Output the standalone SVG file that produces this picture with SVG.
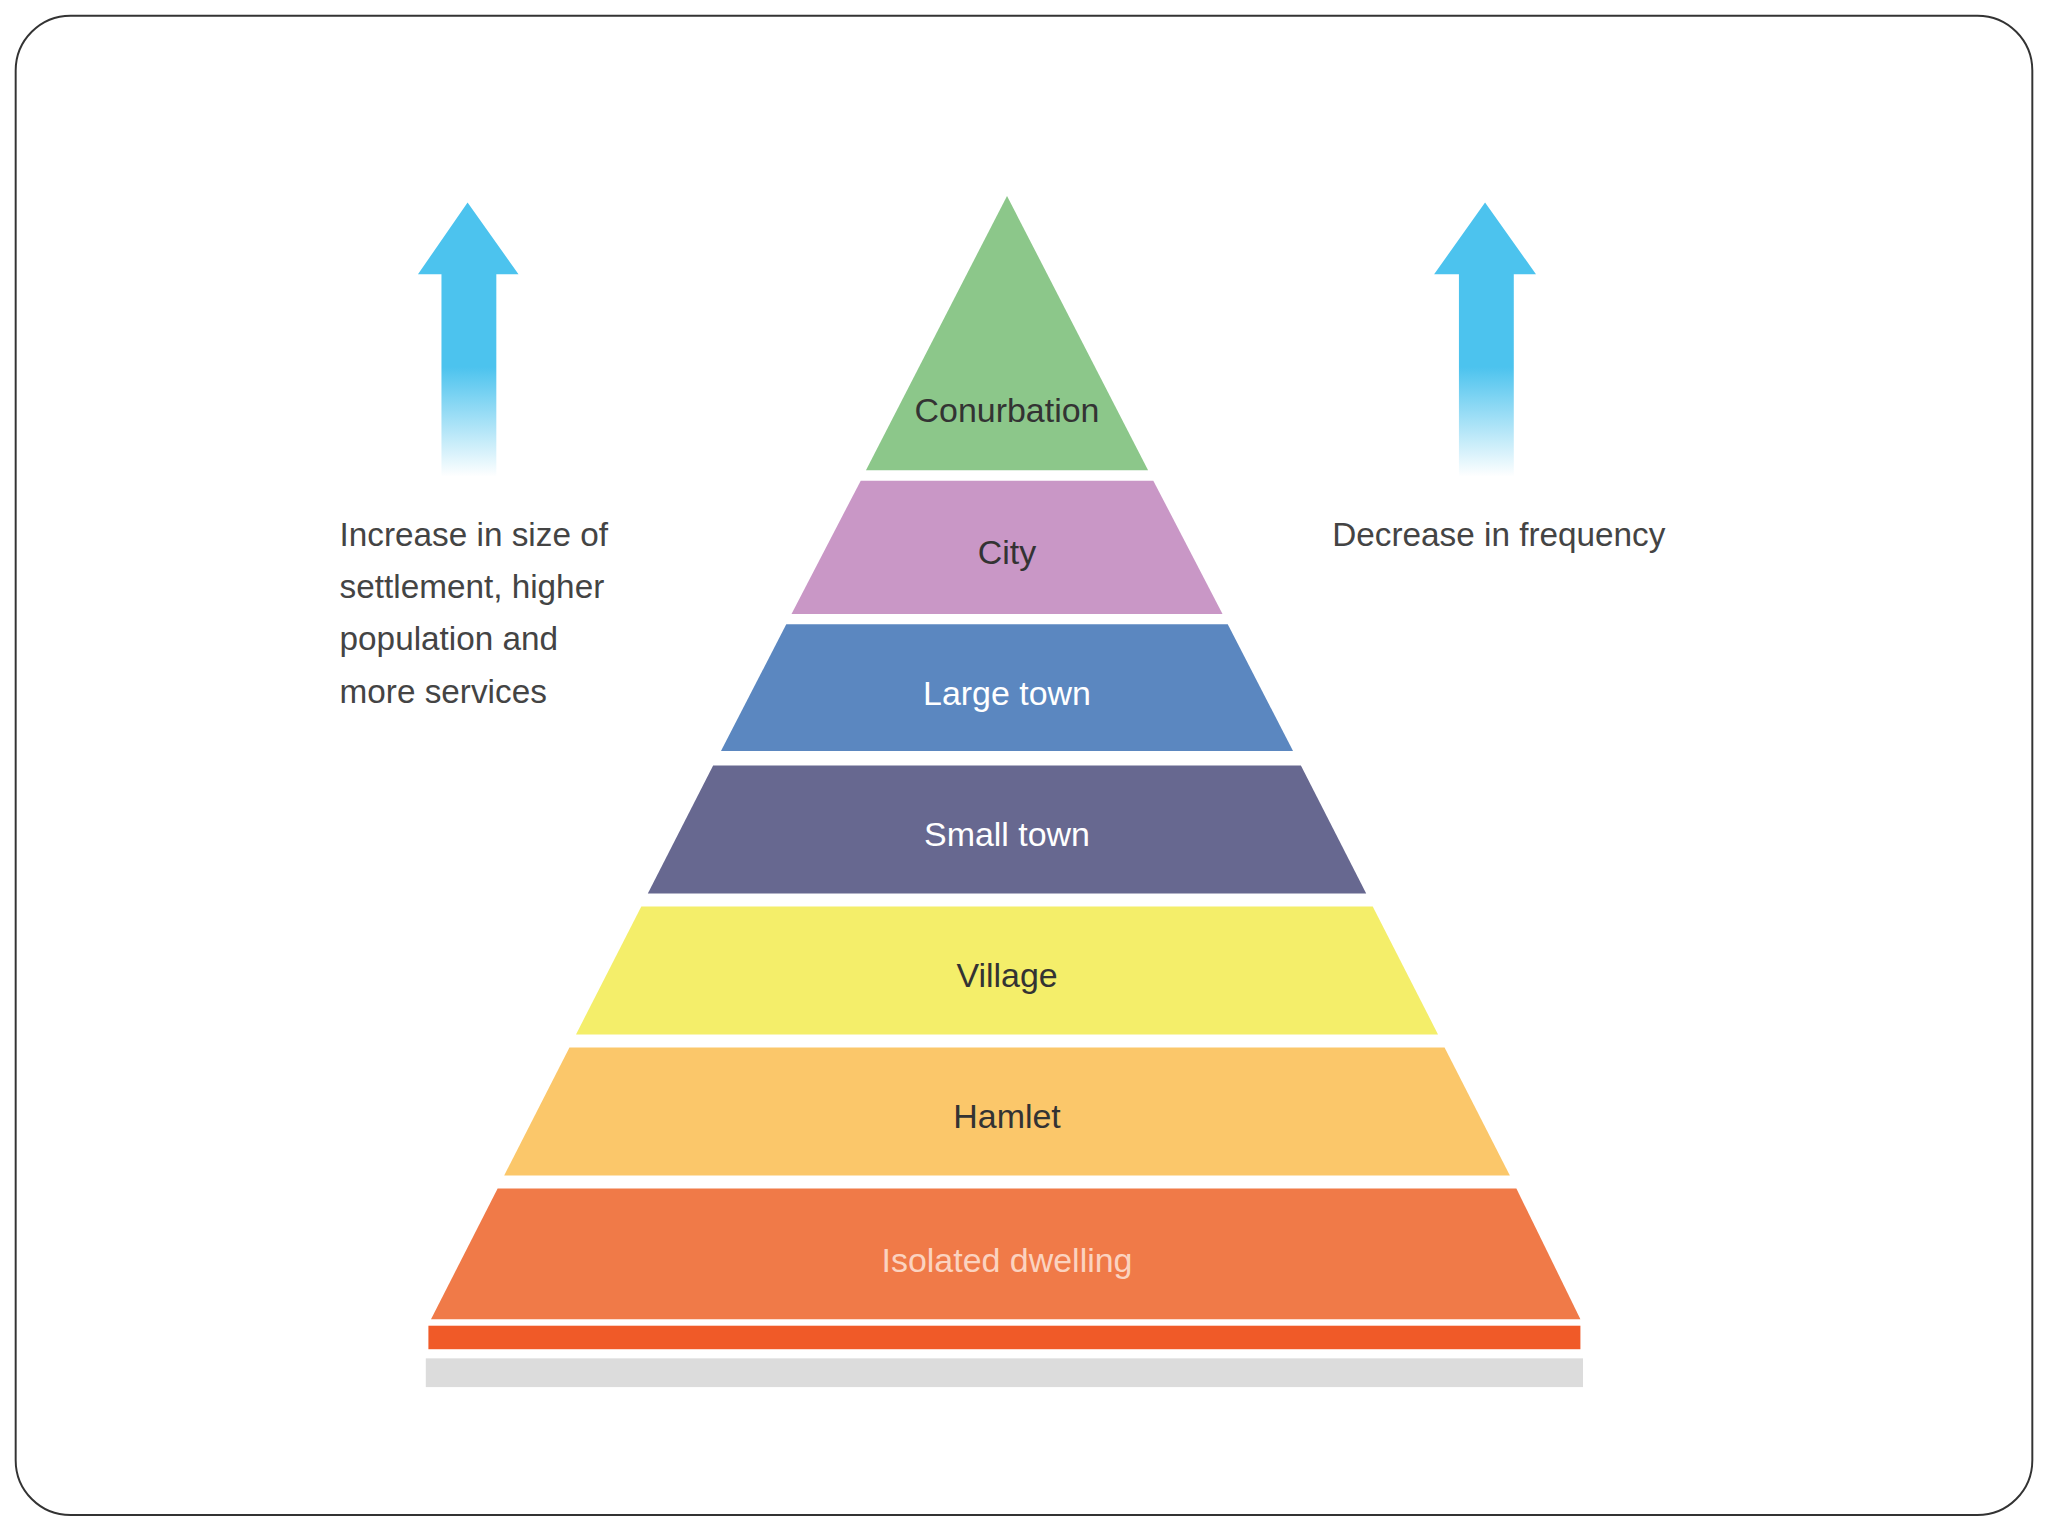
<svg xmlns="http://www.w3.org/2000/svg" width="2048" height="1536" viewBox="0 0 2048 1536">
<style>
.lbl{font-family:"Liberation Sans",Arial,sans-serif;font-size:26px;text-anchor:middle}
.side{font-family:"Liberation Sans",Arial,sans-serif;font-size:25.5px;fill:#444}
</style>
<defs>
<linearGradient id="fade" x1="0" y1="0" x2="0" y2="1">
<stop offset="0" stop-color="#4cc3ee"/><stop offset="0.6" stop-color="#4cc3ee"/><stop offset="1" stop-color="#4cc3ee" stop-opacity="0"/>
</linearGradient>
</defs>
<rect width="2048" height="1536" fill="#fff"/>
<g transform="scale(1.30612)">
<rect x="12" y="12" width="1544" height="1148" rx="42" fill="none" stroke="#333" stroke-width="1.5"/>
<g id="arrow-left"><path d="M358,155 L397,210 L380,210 L380,365 L338,365 L338,210 L320,210 Z" fill="url(#fade)"/></g>
<g id="arrow-right"><path d="M1137,155 L1176,210 L1159,210 L1159,365 L1117,365 L1117,210 L1098,210 Z" fill="url(#fade)"/></g>
<g id="label-left"><text class="side" x="260" y="418">Increase in size of</text><text class="side" x="260" y="458">settlement, higher</text><text class="side" x="260" y="498">population and</text><text class="side" x="260" y="538">more services</text></g>
<g id="label-right"><text class="side" x="1020" y="418">Decrease in frequency</text></g>
<g id="conurbation"><polygon points="771,150 879,360 663,360" fill="#8cc78a"/><text class="lbl" x="771" y="323" fill="#333">Conurbation</text></g>
<g id="city"><polygon points="659,368 883,368 936,470 606,470" fill="#c997c6"/><text class="lbl" x="771" y="432" fill="#333">City</text></g>
<g id="large-town"><polygon points="602,478 940,478 990,575 552,575" fill="#5b87c0"/><text class="lbl" x="771" y="540" fill="#fff">Large town</text></g>
<g id="small-town"><polygon points="546,586 996,586 1046,684 496,684" fill="#676890"/><text class="lbl" x="771" y="648" fill="#fff">Small town</text></g>
<g id="village"><polygon points="491,694 1051,694 1101,792 441,792" fill="#f4ee6a"/><text class="lbl" x="771" y="756" fill="#333">Village</text></g>
<g id="hamlet"><polygon points="436,802 1106,802 1156,900 386,900" fill="#fbc76a"/><text class="lbl" x="771" y="864" fill="#333">Hamlet</text></g>
<g id="isolated-dwelling"><polygon points="381,910 1161,910 1210,1010 330,1010" fill="#f07a48"/><text class="lbl" x="771" y="974" fill="#fbd3c0">Isolated dwelling</text></g>
<rect x="328" y="1015" width="882" height="18" fill="#f05a28"/>
<rect x="326" y="1040" width="886" height="22" fill="#dcdcdc"/>
</g>
</svg>
